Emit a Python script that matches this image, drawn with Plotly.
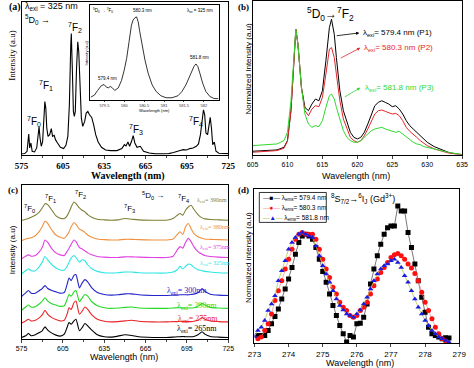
import plotly.graph_objects as go

W, H = 474, 368
def px(x): return x / W
def py(y): return 1 - y / H

SANS = "Liberation Sans"
SERIF = "Liberation Serif"

# ---------------- Panel (a): emission spectrum, lambda_exc = 325 nm ----------------
a_wl = [575.0, 577.3, 579.0, 579.7, 580.2, 580.9, 581.8, 582.7, 584.4, 586.0, 587.0, 587.7, 588.4,
        589.3, 590.3, 591.2, 591.9, 592.6, 593.3, 594.2, 595.4, 596.6, 597.5, 598.7, 599.6, 601.1,
        603.2, 605.5, 607.2, 608.6, 609.7, 610.7, 611.1, 611.9, 612.6, 613.3, 614.0, 614.9, 615.8,
        616.5, 617.5, 618.4, 619.4, 620.8, 621.9, 623.1, 624.3, 625.9, 627.3, 628.8, 630.6, 633.0,
        636.0, 639.6, 644.2, 647.8, 649.6, 650.8, 652.2, 653.4, 654.8, 656.0, 657.2, 658.8, 661.2,
        663.5, 667.7, 672.4, 677.1, 681.8, 685.3, 687.7, 690.0, 692.4, 694.7, 697.1, 699.4, 701.8,
        703.4, 704.8, 706.0, 707.0, 707.9, 708.8, 710.0, 710.9, 711.9, 712.8, 713.7, 714.9, 716.1,
        718.2, 721.7, 724.8]
a_int = [2, 3, 10, 40, 62, 20, 35, 10, 8, 20, 60, 84, 50,
         25, 40, 120, 160, 140, 80, 55, 60, 78, 55, 58, 45, 35,
         22, 18, 28, 55, 150, 330, 365, 250, 130, 115, 130, 260, 340,
         310, 180, 110, 85, 100, 125, 130, 120, 112, 90, 60, 38, 22,
         14, 12, 12, 18, 30, 26, 38, 25, 40, 57, 35, 22, 25,
         10, 5, 2, 2, 3, 6, 8, 12, 15, 14, 18, 20, 25,
         32, 60, 110, 135, 120, 65, 60, 80, 112, 80, 30, 38, 10,
         4, 3, 3]

# inset: 5D0 -> 7F0 region
ins_wl = [579.16, 579.25, 579.33, 579.42, 579.49, 579.55, 579.60, 579.65, 579.70, 579.76, 579.85,
          579.93, 580.00, 580.06, 580.12, 580.18, 580.22, 580.27, 580.31, 580.35, 580.39, 580.45,
          580.52, 580.60, 580.70, 580.80, 580.92, 581.05, 581.20, 581.35, 581.45, 581.55, 581.63,
          581.70, 581.75, 581.80, 581.85, 581.90, 581.97, 582.05, 582.15, 582.25, 582.37]
ins_int = [8, 14, 28, 42, 46, 38, 36, 40, 36, 28, 36,
           58, 90, 125, 175, 225, 240, 248, 250, 235, 205, 165,
           120, 80, 45, 25, 12, 6, 6, 12, 25, 45, 68,
           90, 100, 108, 100, 80, 50, 25, 10, 4, 3]
ins_ticks = [579.5, 580.0, 580.5, 581.0, 581.5, 582.0]

# ---------------- Panel (b): 5D0 -> 7F2 at three excitations ----------------
b_wl = [605, 607, 608.5, 609.5, 610, 610.5, 611, 611.2, 611.5, 612, 612.5, 613, 613.5, 614, 614.5,
        615, 615.5, 616, 616.3, 616.7, 617, 617.5, 618, 618.5, 619, 619.5, 620, 620.5, 621, 621.5,
        622, 622.5, 623, 623.5, 624, 624.5, 625, 625.5, 626, 626.5, 627, 627.5, 628, 628.5, 629,
        629.5, 630, 631, 632, 633, 634, 635]
b_p1 = [10, 12, 14, 22, 42, 132, 312, 377, 332, 202, 142, 132, 152, 167, 162, 192, 282, 382, 407, 362,
        292, 192, 132, 97, 67, 52, 47, 52, 67, 92, 122, 147, 157, 162, 157, 152, 144, 147, 137, 122,
        102, 87, 77, 67, 57, 47, 37, 24, 15, 7, 2, 0]
b_p2 = [7, 10, 12, 19, 40, 132, 312, 377, 332, 202, 132, 117, 137, 147, 144, 172, 242, 317, 322, 292,
        242, 162, 107, 77, 52, 42, 37, 42, 57, 77, 102, 122, 132, 134, 130, 127, 122, 124, 117, 102,
        82, 70, 62, 52, 42, 34, 27, 17, 10, 5, 2, 0]
b_p3 = [27, 30, 32, 42, 67, 162, 322, 377, 332, 202, 122, 92, 82, 87, 84, 102, 142, 177, 182, 167,
        142, 107, 72, 52, 42, 37, 37, 42, 52, 62, 72, 77, 80, 82, 77, 74, 70, 67, 70, 62,
        52, 44, 37, 32, 30, 24, 22, 17, 12, 7, 4, 0]
b_names = ["579.4 nm (P1)", "580.3 nm (P2)", "581.8 nm (P3)"]

# ---------------- Panel (c): emission at several excitation wavelengths ----------------
c_wl = [575, 578, 580, 582, 585, 588, 590, 592, 594, 597, 600, 603, 606, 608, 609.5, 611, 613, 614.5,
        617, 619, 621, 623, 626, 630, 635, 640, 645, 650, 655, 660, 670, 680, 685, 688, 690, 692,
        694, 696, 698, 700, 703, 706, 708, 712, 718, 725]
c_265 = [0, 5, 12, 5, 8, 15, 20, 32, 22, 13, 7, 4, 10, 30, 45, 40, 50, 55, 20, 30, 42, 35, 22, 8, 2, 1,
         4, 8, 6, 2, 0, 0, 1, 2, 2, 3, 2, 2, 2, 3, 8, 17, 10, 3, 1, 0]
c_275 = [-3, 3, 8, 3, 5, 13, 21, 35, 23, 13, 7, 3, 5, 23, 43, 38, 58, 63, 23, 33, 45, 38, 21, 8, 2, 0,
         1, 3, 5, 2, 0, 0, 1, 1, 2, 1, 1, 1, 1, 2, 5, 13, 8, 3, 1, 0]
c_290 = [-6, 4, 10, 4, 5, 14, 22, 32, 22, 14, 10, 6, 8, 27, 42, 37, 50, 54, 20, 32, 42, 37, 20, 8, 2, 0,
         1, 3, 4, 1, 0, 0, 1, 2, 2, 1, 1, 1, 1, 2, 6, 15, 10, 3, 1, 0]
c_300 = [-3, 8, 15, 7, 7, 15, 21, 30, 21, 15, 11, 7, 9, 33, 53, 45, 61, 63, 23, 38, 48, 41, 23, 9, 3, 1,
         2, 5, 5, 2, 0, 0, 1, 1, 2, 2, 2, 2, 3, 4, 8, 21, 13, 4, 1, 0]
c_325 = [-3, 7, 13, 7, 7, 20, 33, 50, 40, 25, 15, 9, 9, 20, 33, 45, 53, 47, 33, 40, 37, 25, 13, 5, 1, 0,
         1, 3, 3, 1, 0, 0, 3, 10, 20, 13, 20, 27, 25, 17, 10, 7, 5, 3, 1, 0]
c_375 = [-4, 4, 8, 4, 6, 18, 30, 53, 46, 26, 14, 8, 6, 18, 28, 40, 53, 48, 30, 26, 20, 14, 8, 3, 1, 0,
         0, 2, 2, 1, 0, 0, 4, 23, 33, 28, 46, 58, 48, 33, 18, 10, 6, 3, 1, 0]
c_380 = [-2, 3, 5, 7, 13, 27, 40, 57, 50, 30, 15, 8, 5, 15, 25, 40, 53, 47, 33, 29, 23, 15, 8, 3, 1, 0,
         0, 2, 2, 1, 0, 0, 3, 17, 25, 17, 40, 50, 35, 20, 10, 5, 3, 2, 1, 0]
c_390 = [-1, 3, 5, 9, 15, 25, 37, 50, 47, 30, 13, 6, 5, 13, 25, 40, 55, 50, 37, 30, 25, 17, 9, 3, 1, 0,
         1, 5, 3, 1, 0, 0, 5, 15, 20, 15, 30, 40, 45, 33, 17, 7, 4, 2, 1, 0]
c_series = [c_265, c_275, c_290, c_300, c_325, c_375, c_380, c_390]
c_labels = ["265nm", "275nm", "290nm", "300nm", "325nm", "375nm", "380nm", "390nm"]

# ---------------- Panel (d): excitation spectra (Gd3+ band) ----------------
d_wl = [273.0, 273.1, 273.2, 273.3, 273.4, 273.5, 273.6, 273.7, 273.8, 273.9,
        274.0, 274.1, 274.2, 274.3, 274.4, 274.5, 274.6, 274.7, 274.8, 274.9,
        275.0, 275.1, 275.2, 275.3, 275.4, 275.5, 275.6, 275.7, 275.8, 275.9,
        276.0, 276.1, 276.2, 276.3, 276.4, 276.5, 276.6, 276.7, 276.8, 276.9,
        277.0, 277.1, 277.2, 277.3, 277.4, 277.5, 277.6, 277.7, 277.8, 277.9,
        278.0, 278.1, 278.2, 278.3, 278.4, 278.5, 278.6, 278.7]
d_579 = [23, 23, 23, 38, 58, 80, 103, 133, 163,
         193, 228, 268, 303, 323, 328, 323, 313, 288, 253,
         216, 183, 148, 113, 83, 53, 28, 3, 23, 18,
         58, 60, 78, 118, 178, 223, 263, 298, 328, 348,
         353, 353, 413, 398, 398, 333, 288, 238, 188, 138,
         93, 48, 28, 23, 18, 13, 16, 15]
d_580 = [13, 18, 38, 58, 88, 128, 158, 188, 223,
         253, 283, 313, 328, 333, 328, 328, 328, 313, 283,
         253, 223, 198, 168, 148, 123, 108, 98, 83, 78,
         83, 98, 108, 123, 148, 173, 193, 213, 228, 243,
         258, 266, 270, 263, 253, 238, 226, 210, 188, 153,
         123, 98, 73, 48, 28, 13, 6]
d_581 = [20, 38, 48, 68, 98, 118, 143, 188, 218, 248,
         283, 303, 318, 328, 333, 328, 323, 318, 293, 263,
         233, 208, 183, 158, 133, 113, 100, 88, 83, 78,
         88, 100, 118, 138, 163, 188, 208, 223, 233, 238,
         248, 253, 243, 228, 203, 183, 158, 133, 108, 88,
         68, 53, 38, 28, 18, 13, 8, 3]
d_names = ["579.4 nm", "580.3 nm", "581.8 nm"]

# =====================================================================
fig = go.Figure()

# (a)
fig.add_trace(go.Scatter(x=a_wl, y=a_int, xaxis="x", yaxis="y", mode="lines",
                         line=dict(color="black", width=1.1), showlegend=False))
fig.add_trace(go.Scatter(x=ins_wl, y=ins_int, xaxis="x2", yaxis="y2", mode="lines",
                         line=dict(color="black", width=0.8), showlegend=False))
# (b)
b_colors = ["black", "#e3262b", "#2fd82f"]
for vals, col in zip([b_p1, b_p2, b_p3], b_colors):
    fig.add_trace(go.Scatter(x=b_wl, y=vals, xaxis="x3", yaxis="y3", mode="lines",
                             line=dict(color=col, width=1.0), showlegend=False))
# (c)
c_colors = ["black", "#e8262b", "#26d926", "#2424c8", "#2ee6e6", "#e040e0", "#f0903e", "#7f7f38"]
c_offsets = [5, 52, 93, 132, 200, 247, 300, 360]
for vals, col, off in zip(c_series, c_colors, c_offsets):
    fig.add_trace(go.Scatter(x=c_wl, y=[v + off for v in vals], xaxis="x4", yaxis="y4", mode="lines",
                             line=dict(color=col, width=1.1, shape="spline", smoothing=0.6),
                             showlegend=False))
# (d)
d_marker = [("square", "black", "#555555", "■"), ("circle", "#ff1010", "#f29a9a", "●"),
            ("triangle-up", "#1a1ae0", "#b8c84a", "▲")]
for (wl, vals), (sym, col, lcol, _) in zip(
        [(d_wl[1:], d_579), (d_wl[1:57], d_580), (d_wl, d_581)], d_marker):
    fig.add_trace(go.Scatter(x=wl, y=vals, xaxis="x5", yaxis="y5", mode="lines+markers",
                             marker=dict(symbol=sym, color=col, size=5),
                             line=dict(color=lcol, width=0.8), showlegend=False))

axbase = dict(showline=True, linecolor="black", linewidth=1, mirror=True, showgrid=False,
              zeroline=False)
ynone = dict(axbase, showticklabels=False, ticks="")

fig.update_layout(
    width=W, height=H, margin=dict(l=0, r=0, t=0, b=0),
    paper_bgcolor="white", plot_bgcolor="white", showlegend=False,
    xaxis=dict(axbase, domain=[px(15), px(228)], range=[575, 725], anchor="y",
               tickmode="linear", tick0=575, dtick=30, ticks="outside", ticklen=3,
               minor=dict(ticks="outside", ticklen=2, dtick=15, tick0=575),
               tickfont=dict(family=SERIF, size=9, weight="bold", color="black")),
    yaxis=dict(ynone, domain=[py(154), py(1)], range=[0, 460], anchor="x"),
    xaxis2=dict(axbase, domain=[px(86), px(218)], range=[579.15, 582.37], anchor="y2",
                tickmode="array", tickvals=ins_ticks, ticks="outside", ticklen=1.5,
                linewidth=0.8, tickfont=dict(family=SANS, size=4, color="#333")),
    yaxis2=dict(ynone, domain=[py(99), py(4)], range=[0, 286], anchor="x2", linewidth=0.8),
    xaxis3=dict(axbase, domain=[px(253), px(469)], range=[605, 635], anchor="y3",
                tickmode="linear", tick0=605, dtick=5, ticks="outside", ticklen=3,
                tickfont=dict(family=SANS, size=7, color="black")),
    yaxis3=dict(ynone, domain=[py(154), py(0)], range=[0, 462], anchor="x3"),
    xaxis4=dict(axbase, domain=[px(15), px(228)], range=[575, 725], anchor="y4",
                tickmode="linear", tick0=575, dtick=30, ticks="outside", ticklen=3,
                minor=dict(ticks="outside", ticklen=2, dtick=15, tick0=575),
                tickfont=dict(family=SANS, size=7, color="black")),
    yaxis4=dict(ynone, domain=[py(339), py(185)], range=[0, 465], anchor="x4"),
    xaxis5=dict(axbase, domain=[px(255), px(466)], range=[273, 279], anchor="y5",
                tickmode="linear", tick0=273, dtick=1, ticks="outside", ticklen=3,
                tickfont=dict(family=SANS, size=8, color="black")),
    yaxis5=dict(ynone, domain=[py(343), py(189)], range=[0, 463], anchor="x5"),
    shapes=[dict(type="rect", xref="paper", yref="paper", x0=px(260), x1=px(329),
                 y0=py(222), y1=py(192), line=dict(color="black", width=0.8),
                 fillcolor="white", layer="above")],
)

ann = []
def txt(x, y, text, size=9, family=SANS, color="black", xanchor="center", angle=0, bold=False):
    ann.append(dict(x=px(x), y=py(y), xref="paper", yref="paper", text=("<b>%s</b>" % text) if bold else text,
                    showarrow=False, xanchor=xanchor, yanchor="middle", textangle=angle,
                    font=dict(family=family, size=size, color=color)))

def arrow(tx, ty, hx, hy, color):
    ann.append(dict(x=px(hx), y=py(hy), xref="paper", yref="paper", text="", showarrow=True,
                    ax=tx - hx, ay=ty - hy, arrowhead=2, arrowsize=0.8, arrowwidth=0.8,
                    arrowcolor=color))

# (a) texts
txt(8, 6, "(a)", size=10, family=SERIF, bold=True)
txt(17, 6, "λ<sub>exi</sub> = 325 nm", size=9, xanchor="left")
txt(17, 19, "<sup>5</sup>D<sub>0</sub> →", size=9, xanchor="left")
txt(70, 27, "<sup>7</sup>F<sub>2</sub>", size=10)
txt(40, 85, "<sup>7</sup>F<sub>1</sub>", size=10)
txt(28, 121, "<sup>7</sup>F<sub>0</sub>", size=10)
txt(133, 129, "<sup>7</sup>F<sub>3</sub>", size=10)
txt(195, 121, "<sup>7</sup>F<sub>4</sub>", size=10)
txt(125, 175, "Wavelength (nm)", size=10, family=SERIF, bold=True)
txt(5, 55, "Intensity (a.u)", size=9, family=SERIF, angle=-90)
# inset texts
txt(99, 10, "<sup>5</sup>D<sub>0</sub> → <sup>7</sup>F<sub>0</sub>", size=4.5)
txt(140, 10, "580.3 nm", size=4.5)
txt(199, 10, "λ<sub>ex</sub> = 325 nm", size=4.5)
txt(104, 78, "579.4 nm", size=4.5)
txt(198, 57, "581.8 nm", size=4.5)
txt(152, 110, "Wavelength (nm)", size=4)
txt(82, 52, "Intensity (a.u)", size=4, angle=-90)

# (b) texts
txt(244, 6, "(b)", size=9, family=SERIF, bold=True)
txt(333, 13, "<sup>5</sup>D<sub>0</sub>→<sup>7</sup>F<sub>2</sub>", size=12)
b_text_pos = [(365, 32), (366, 47), (367, 87)]
b_arrows = [((339, 35), (363, 32)), ((343, 58), (364, 47)), ((347, 97), (364, 87))]
for name, col, (tx, ty), (tail, head) in zip(b_names, b_colors, b_text_pos, b_arrows):
    txt(tx, ty, "λ<sub>exi</sub>= " + name, size=8, color=col, xanchor="left")
    arrow(tail[0], tail[1], head[0], head[1], col)
txt(360, 175, "Wavelength (nm)", size=9)
txt(249, 68, "Normalized Intensity (a.u)", size=8, angle=-90)

# (c) texts
txt(6, 190, "(c)", size=9, family=SERIF, bold=True)
txt(23, 208, "<sup>7</sup>F<sub>0</sub>", size=8)
txt(45, 198, "<sup>7</sup>F<sub>1</sub>", size=8)
txt(76, 194, "<sup>7</sup>F<sub>2</sub>", size=8)
txt(126, 208, "<sup>7</sup>F<sub>3</sub>", size=8)
txt(150, 195, "<sup>5</sup>D<sub>0</sub> →", size=8)
txt(182, 198, "<sup>7</sup>F<sub>4</sub>", size=8)
c_lab_pos = [(173, 329, 8), (174, 319, 8), (173, 306, 8), (163, 291, 8),
             (197, 263, 6), (197, 247, 6), (197, 227, 6), (194, 200, 6)]
for lab, col, (lx, ly, fs) in zip(c_labels, c_colors, c_lab_pos):
    txt(lx, ly, "λ<sub>exi</sub>= " + lab, size=fs, family=SERIF, color=col, xanchor="left")
txt(121, 357, "Wavelength (nm)", size=9)
txt(5, 249, "Intensity (a.u)", size=8, angle=-90)

# (d) texts
txt(244, 190, "(d)", size=9, family=SERIF, bold=True)
txt(332, 198, "<sup>8</sup>S<sub>7/2</sub>→<sup>6</sup>I<sub>J</sub> (Gd<sup>3+</sup>)", size=9,
    xanchor="left")
txt(364, 363, "Wavelength (nm)", size=9)
txt(249, 257, "Normalized intensity (a.u)", size=8, angle=-90)
# (d) legend drawn as text inside the box
for i, (name, (sym, col, lcol, glyph)) in enumerate(zip(d_names, d_marker)):
    label = ("<span style='color:%s'>—</span><span style='color:%s'>%s</span>"
             "<span style='color:%s'>—</span> λ<sub>ems</sub>= %s" % (lcol, col, glyph, lcol, name))
    txt(262, 198 + i * 10, label, size=6.5, xanchor="left")

fig.update_layout(annotations=ann)
fig.write_html("out.html", config={"displayModeBar": False},
               post_script="document.body.style.margin='0px';document.body.style.overflow='hidden';")
